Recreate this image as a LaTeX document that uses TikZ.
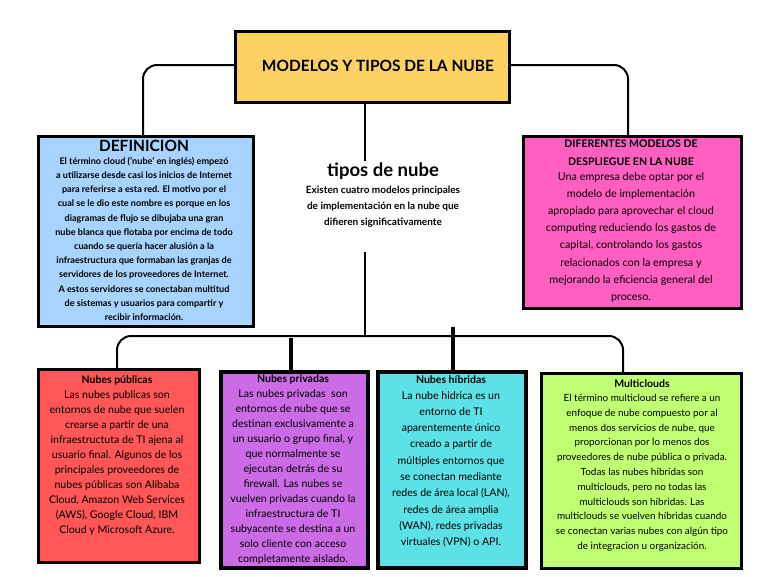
\documentclass[tikz,border=0pt]{standalone}
\usepackage{fontspec}
\setmainfont{Lato}
\begin{document}
\begin{tikzpicture}[x=1pt,y=-1pt,
  box/.style={draw=black,line width=3pt,anchor=north west,inner sep=0pt},
  conn/.style={line width=2pt,rounded corners=14pt},
  thick conn/.style={line width=3.2pt},
  txt/.style={align=center,anchor=north,inner sep=0pt}]
\useasboundingbox (0,0) rectangle (768,576);
\definecolor{cyel}{HTML}{F9D262}
\definecolor{cblue}{HTML}{A8D3FE}
\definecolor{cpink}{HTML}{FF5FC1}
\definecolor{cred}{HTML}{FF5757}
\definecolor{cpur}{HTML}{CB6CE6}
\definecolor{ccyan}{HTML}{5CE1E6}
\definecolor{cgreen}{HTML}{C1FF72}
% boxes
\node[box,fill=cyel,minimum width=274,minimum height=71] (title) at (234,30) {};
\node[font=\fontsize{15.5}{18}\selectfont\bfseries] at (378,66) {MODELOS Y TIPOS DE LA NUBE};
\node[box,fill=cblue,minimum width=215,minimum height=190] (def) at (37,135) {};
\node[box,fill=cpink,minimum width=218,minimum height=172] (dif) at (522,135) {};
\node[box,fill=cred,minimum width=161,minimum height=193] (pub) at (37,368) {};
\node[box,fill=cpur,line width=4pt,minimum width=147,minimum height=196] (pri) at (219,370) {};
\node[box,fill=ccyan,line width=4pt,minimum width=148,minimum height=196] (hib) at (376,370) {};
\node[box,fill=cgreen,minimum width=200,minimum height=195] (mul) at (540,372) {};
% connectors
\coordinate (tb) at (365,161);
\coordinate (tn) at (365,252);
\coordinate (hub) at (365,336);
\draw[conn] (title.west |- 0,65) -- (143,65) -- (143,135);
\draw[conn] (title.east |- 0,65) -- (628,65) -- (628,135);
\draw[line width=2pt] (title.south -| tb) -- (tb);
\draw[line width=2pt] (tn) -- (hub);
\draw[conn] (117,368) -- (117,336) -- (623,336) -- (623,372);
\draw[thick conn] (291,338) -- (291,370);
\draw[thick conn] (453,327) -- (453,370);
% texts
\node[txt,font=\fontsize{15.5}{18}\selectfont\bfseries] at (144,140) {DEFINICION};
\node[txt,font=\fontsize{9.1}{14.2}\selectfont\bfseries] at (144,157) {El término cloud ('nube' en inglés) empezó\\a utilizarse desde casi los inicios de Internet\\para referirse a esta red. El motivo por el\\cual se le dio este nombre es porque en los\\diagramas de flujo se dibujaba una gran\\nube blanca que flotaba por encima de todo\\cuando se quería hacer alusión a la\\infraestructura que formaban las granjas de\\servidores de los proveedores de Internet.\\A estos servidores se conectaban multitud\\de sistemas y usuarios para compartir y\\recibir información.};
\node[txt,font=\fontsize{18.5}{20}\selectfont\bfseries] at (383,163) {tipos de nube};
\node[txt,font=\fontsize{10}{16}\selectfont\bfseries] at (383,186) {Existen cuatro modelos principales\\de implementación en la nube que\\difieren significativamente};
\node[txt,font=\fontsize{10.5}{17.2}\selectfont\bfseries] at (631,140) {DIFERENTES MODELOS DE\\DESPLIEGUE EN LA NUBE};
\node[txt,font=\fontsize{10.8}{17.2}\selectfont] at (631,172) {Una empresa debe optar por el\\modelo de implementación\\apropiado para aprovechar el cloud\\computing reduciendo los gastos de\\capital, controlando los gastos\\relacionados con la empresa y\\mejorando la eficiencia general del\\proceso.};
\node[txt,font=\fontsize{10.5}{15}\selectfont\bfseries] at (117,375) {Nubes públicas};
\node[txt,font=\fontsize{10.6}{15}\selectfont] at (117,390) {Las nubes publicas son\\entornos de nube que suelen\\crearse a partir de una\\infraestructuta de TI ajena al\\usuario final. Algunos de los\\principales proveedores de\\nubes públicas son Alibaba\\Cloud, Amazon Web Services\\(AWS), Google Cloud, IBM\\Cloud y Microsoft Azure.};
\node[txt,font=\fontsize{10.5}{15}\selectfont\bfseries] at (293,374) {Nubes privadas};
\node[txt,font=\fontsize{10.6}{15}\selectfont] at (293,389) {Las nubes privadas\ \ son\\entornos de nube que se\\destinan exclusivamente a\\un usuario o grupo final, y\\que normalmente se\\ejecutan detrás de su\\firewall. Las nubes se\\vuelven privadas cuando la\\infraestructura de TI\\subyacente se destina a un\\solo cliente con acceso\\completamente aislado.};
\node[txt,font=\fontsize{10.5}{15}\selectfont\bfseries] at (451,375) {Nubes híbridas};
\node[txt,font=\fontsize{10.6}{16.3}\selectfont] at (451,391) {La nube hidrica es un\\entorno de TI\\aparentemente único\\creado a partir de\\múltiples entornos que\\se conectan mediante\\redes de área local (LAN),\\redes de área amplia\\(WAN), redes privadas\\virtuales (VPN) o API.};
\node[txt,font=\fontsize{10.5}{15}\selectfont\bfseries] at (642,379) {Multiclouds};
\node[txt,font=\fontsize{9.9}{14.8}\selectfont] at (642,394) {El término multicloud se refiere a un\\enfoque de nube compuesto por al\\menos dos servicios de nube, que\\proporcionan por lo menos dos\\proveedores de nube pública o privada.\\Todas las nubes híbridas son\\multiclouds, pero no todas las\\multiclouds son híbridas. Las\\multiclouds se vuelven híbridas cuando\\se conectan varias nubes con algún tipo\\de integracion u organización.};
\end{tikzpicture}
\end{document}
